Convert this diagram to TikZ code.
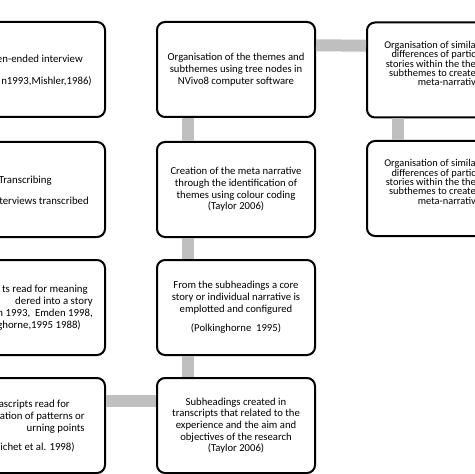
\documentclass[tikz,border=0pt]{standalone}
\usepackage{fontspec}
\setmainfont{Carlito}
\usepackage{tikz}
\usetikzlibrary{calc}
\tikzset{
  fmbox/.style={draw, line width=1.5pt, rounded corners=6pt, fill=white,
    minimum width=118.5pt, minimum height=71.25pt, align=center,
    font=\fontsize{8}{8.75}\selectfont},
  fmcut/.style={inner sep=0pt, align=right, font=\fontsize{8.1}{9}\selectfont},
  fmside/.style={inner sep=0pt, align=right, font=\fontsize{7.8}{7}\selectfont},
  fmbar/.style={draw=black!25, line width=9pt},
}

\begin{document}
\begin{tikzpicture}[x=0.75pt, y=-0.75pt]
  \useasboundingbox (0,0) rectangle (474,474);

  \node[fmbox] (iv) at (26,69.5) {};
  \node[fmbox] (tr) at (26,189.5) {};
  \node[fmbox] (rd) at (26,307.5) {};
  \node[fmbox] (tp) at (26,425.5) {};

  \node[fmbox] (nv) at (236,69.5) {Organisation of the themes and\\subthemes using tree nodes in\\NVivo8 computer software};
  \node[fmbox] (mn) at (236,189.5) {Creation of the meta narrative\\through the identification of\\themes using colour coding\\(Taylor 2006)};
  \node[fmbox] (cs) at (236,307.5) {From the subheadings a core\\story or individual narrative is\\emplotted and configured\\[6pt](Polkinghorne\ \ 1995)};
  \node[fmbox] (sh) at (236,425.5) {Subheadings created in\\transcripts that related to the\\experience and the aim and\\objectives of the research\\(Taylor 2006)};

  \node[fmbox] (os) at (446,70) {};
  \node[fmbox] (od) at (446,188.5) {};

  \node[fmcut, anchor=east] (ivt) at (92,70.5) {en-ended interview\hspace*{6.75pt}\\[8pt]n1993,Mishler,1986)};
  \node[fmcut, anchor=east] (trt) at (89,190) {Transcribing\hspace*{27.75pt}\\[7pt]terviews transcribed};
  \node[fmcut, anchor=east] (rdt) at (93,308) {ts read for meaning\hspace*{3.75pt}\\dered into a story\hspace*{11.25pt}\\n 1993,\ \ Emden 1998,\\ghorne,1995 1988)\hspace*{9pt}};
  \node[fmcut, anchor=east] (tpt) at (85,426) {ascripts read for\hspace*{11.25pt}\\sation of patterns or\\urning points\hspace*{15pt}\\[5pt]ichet et al. 1998)\hspace*{7.5pt}};

  \node[fmside, anchor=east] (ost) at (476,63.5) {Organisation of simila\\differences of partic\\stories within the the\\subthemes to create\\meta-narrativ};
  \node[fmside, anchor=east] (odt) at (476,182) {Organisation of simila\\differences of partic\\stories within the the\\subthemes to create\\meta-narrativ};

  \draw[fmbar] ($(nv.north east)!0.25!(nv.south east)$) -- ($(os.north west)!0.25!(os.south west)$);
  \draw[fmbar] ($(os.south west)!0.2!(os.south east)$) -- ($(od.north west)!0.2!(od.north east)$);
  \draw[fmbar] ($(nv.south west)!0.2!(nv.south east)$) -- ($(mn.north west)!0.2!(mn.north east)$);
  \draw[fmbar] ($(mn.south west)!0.2!(mn.south east)$) -- ($(cs.north west)!0.2!(cs.north east)$);
  \draw[fmbar] ($(cs.south west)!0.2!(cs.south east)$) -- ($(sh.north west)!0.2!(sh.north east)$);
  \draw[fmbar] ($(tp.north east)!0.25!(tp.south east)$) -- ($(sh.north west)!0.25!(sh.south west)$);
\end{tikzpicture}
\end{document}
